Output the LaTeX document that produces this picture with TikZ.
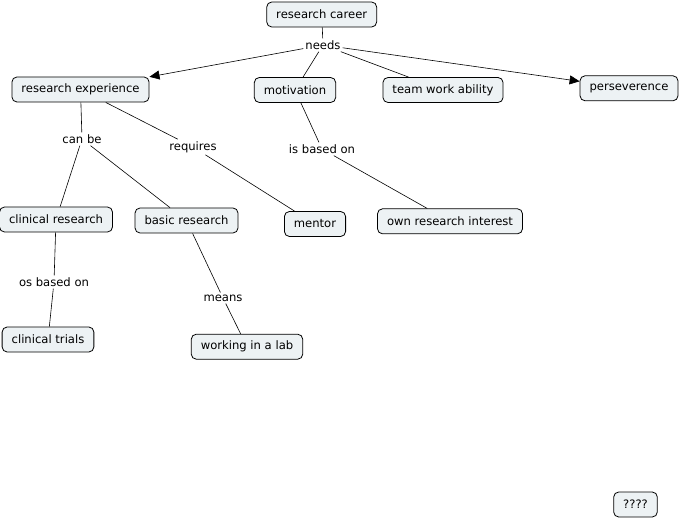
\documentclass[tikz,border=0pt]{standalone}
\usepackage{fontspec}
\setmainfont{DejaVu Sans}
\usetikzlibrary{arrows.meta}
\definecolor{boxfill}{HTML}{EDF2F4}
\tikzset{
  concept/.style={draw=black, fill=boxfill, rounded corners=5pt, line width=0.8pt,
    minimum height=25pt, inner xsep=9.5pt, font=\fontsize{11.6}{13}\selectfont},
  linklbl/.style={inner sep=2pt, font=\fontsize{11.6}{13}\selectfont},
  conn/.style={line width=0.6pt},
  arr/.style={conn, -{Triangle[length=10pt,width=9pt]}}
}
\begin{document}
\begin{tikzpicture}[x=1pt,y=-1pt]
\useasboundingbox (0,0) rectangle (679,518);
\node[concept] (rc) at (321.7,14.5) {research career};
\node[linklbl] (needs) at (323,45) {needs};
\node[concept] (re) at (80.5,89.5) {research experience};
\node[concept] (mot) at (295,90) {motivation};
\node[concept] (team) at (443,90) {team work ability};
\node[concept] (pers) at (629,88.3) {perseverence};
\node[linklbl] (canbe) at (82,139) {can be};
\node[linklbl] (req) at (193,147) {requires};
\node[linklbl] (isb) at (322,149) {is based on};
\node[concept] (clin) at (56,219.5) {clinical research};
\node[concept] (basic) at (186.5,220.5) {basic research};
\node[concept] (mentor) at (315,224) {mentor};
\node[concept] (own) at (450,221.3) {own research interest};
\node[linklbl] (osb) at (54,282) {os based on};
\node[linklbl] (means) at (223,298) {means};
\node[concept] (trials) at (48,339.5) {clinical trials};
\node[concept] (lab) at (247,346.7) {working in a lab};
\node[concept] (q) at (635.5,504.5) {????};

\draw[conn] (rc) -- (needs);
\draw[arr] (needs) -- (re);
\draw[conn] (needs) -- (mot);
\draw[conn] (needs) -- (team);
\draw[arr] (needs) -- (pers);
\draw[conn] (re) -- (canbe);
\draw[conn] (canbe) -- (clin);
\draw[conn] (canbe) -- (basic);
\draw[conn] (re) -- (req);
\draw[conn] (req) -- (mentor);
\draw[conn] (mot) -- (isb);
\draw[conn] (isb) -- (own);
\draw[conn] (clin) -- (osb);
\draw[conn] (osb) -- (trials);
\draw[conn] (basic) -- (means);
\draw[conn] (means) -- (lab);
\end{tikzpicture}
\end{document}
